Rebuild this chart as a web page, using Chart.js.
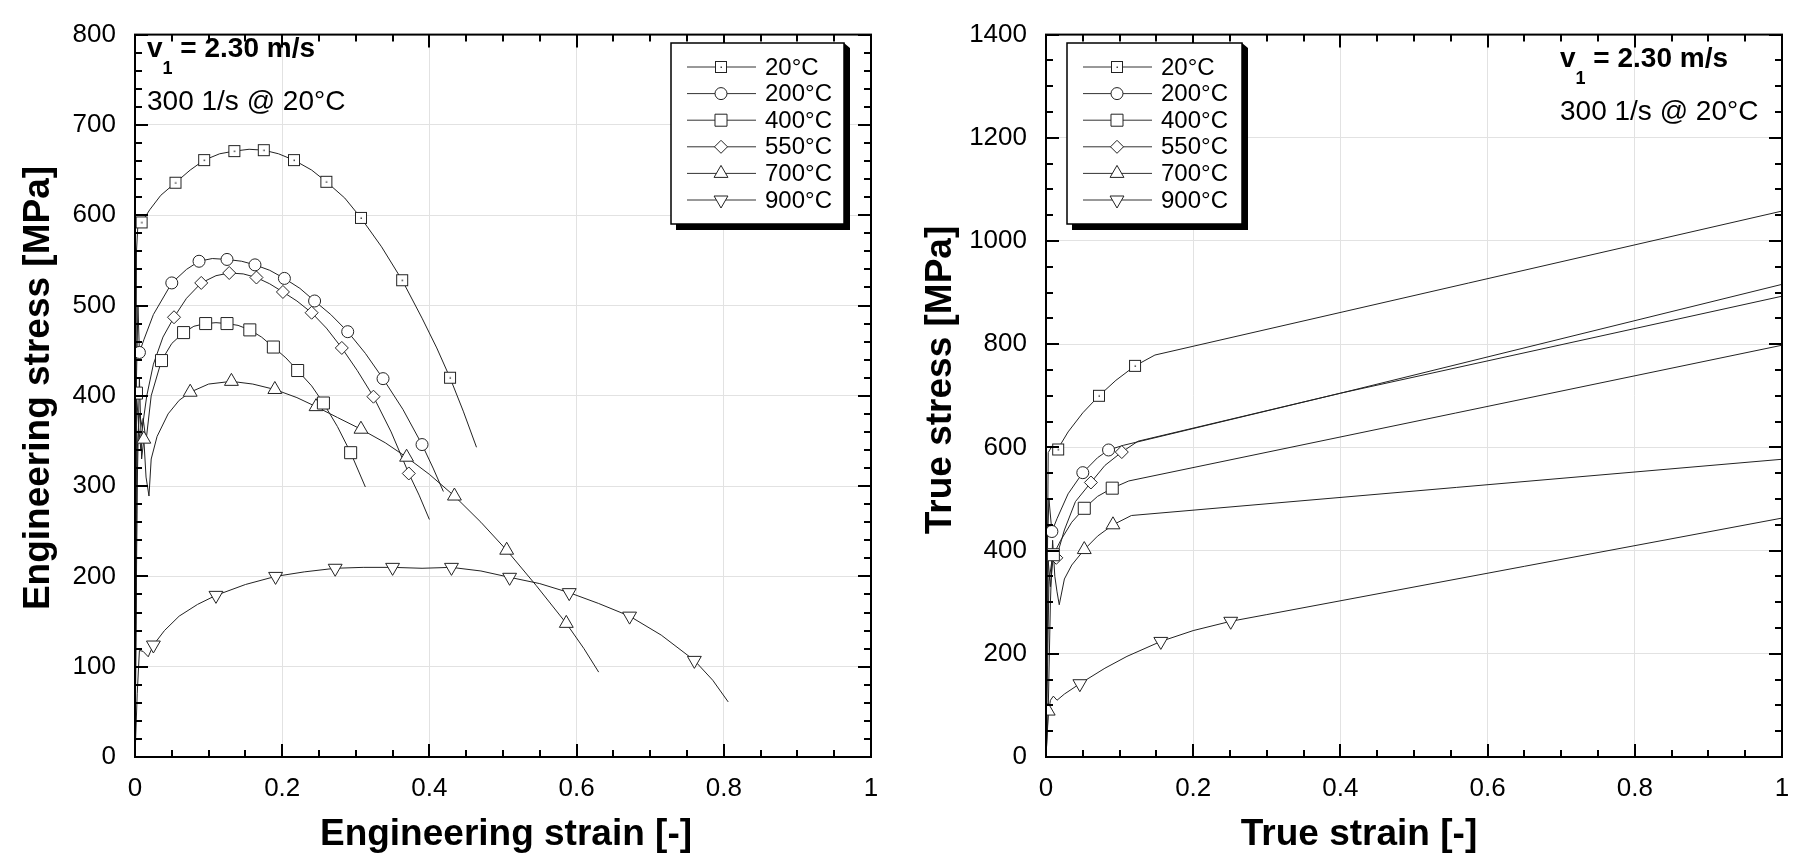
<!DOCTYPE html>
<html>
<head>
<meta charset="utf-8">
<script src="https://cdn.jsdelivr.net/npm/chart.js@4.4.0/dist/chart.umd.min.js"></script>
<style>
  html, body { margin: 0; padding: 0; background: #fff; }
  #wrap { position: relative; width: 1807px; height: 864px; }
  .box { position: absolute; top: 0; height: 864px; }
  #left { left: 0; width: 904px; }
  #right { left: 904px; width: 903px; }
</style>
</head>
<body>
<div id="wrap">
  <div class="box" id="left"><canvas id="engChart"></canvas></div>
  <div class="box" id="right"><canvas id="trueChart"></canvas></div>
</div>
<script>
const FONT = '"Liberation Sans", Arial, sans-serif';

// legend labels
const temps = ['20°C', '200°C', '400°C', '550°C', '700°C', '900°C'];

// engineering stress-strain curves  [strain, MPa]
const eng20 = [[0,0],[0.002,560],[0.004,590],[0.009,592],[0.02,606],[0.035,622],[0.055,636],[0.075,650],[0.094,661],[0.115,668],[0.135,671],[0.155,673],[0.175,672],[0.195,668],[0.216,661],[0.24,650],[0.26,637],[0.285,619],[0.307,597],[0.335,565],[0.363,528],[0.39,486],[0.41,453],[0.428,420],[0.446,383],[0.464,343]];
const eng200 = [[0,0],[0.002,420],[0.004,500],[0.006,448],[0.012,462],[0.025,490],[0.05,525],[0.07,540],[0.087,549],[0.105,552],[0.125,551],[0.145,549],[0.163,545],[0.183,539],[0.203,530],[0.224,519],[0.244,505],[0.266,490],[0.289,471],[0.313,447],[0.337,419],[0.364,385],[0.39,346],[0.405,320],[0.419,294]];
const eng400 = [[0,0],[0.002,403],[0.005,365],[0.008,340],[0.011,375],[0.015,350],[0.022,400],[0.036,439],[0.05,458],[0.066,470],[0.08,477],[0.096,480],[0.11,481],[0.125,480],[0.14,478],[0.156,473],[0.172,465],[0.188,454],[0.205,442],[0.221,428],[0.24,411],[0.256,392],[0.275,366],[0.293,337],[0.313,299]];
const eng550 = [[0,0],[0.003,340],[0.006,380],[0.01,365],[0.016,400],[0.025,435],[0.038,465],[0.053,487],[0.07,508],[0.09,525],[0.11,533],[0.128,536],[0.147,535],[0.165,531],[0.183,524],[0.201,515],[0.22,505],[0.24,492],[0.26,475],[0.281,453],[0.302,428],[0.324,399],[0.348,360],[0.372,314],[0.386,290],[0.40,263]];
const eng700 = [[0,0],[0.003,300],[0.006,420],[0.009,330],[0.012,352],[0.015,310],[0.019,289],[0.022,330],[0.03,355],[0.045,380],[0.06,395],[0.075,404],[0.1,413],[0.131,416],[0.16,413],[0.19,407],[0.22,398],[0.246,388],[0.275,376],[0.307,363],[0.34,348],[0.369,332],[0.4,313],[0.434,289],[0.47,260],[0.505,229],[0.545,190],[0.586,148],[0.61,120],[0.63,94]];
const eng900 = [[0,0],[0.003,70],[0.006,118],[0.011,117],[0.018,111],[0.025,124],[0.04,140],[0.06,156],[0.085,169],[0.11,179],[0.15,191],[0.191,200],[0.23,205],[0.272,209],[0.31,210],[0.35,210],[0.39,209],[0.43,210],[0.47,206],[0.509,199],[0.55,192],[0.59,182],[0.63,170],[0.672,156],[0.715,135],[0.76,107],[0.785,85],[0.806,61]];

// marker positions on the engineering curves
const engMk20 = [[0.009,592],[0.055,636],[0.094,661],[0.135,671],[0.175,672],[0.216,661],[0.26,637],[0.307,597],[0.363,528],[0.428,420]];
const engMk200 = [[0.006,448],[0.05,525],[0.087,549],[0.125,551],[0.163,545],[0.203,530],[0.244,505],[0.289,471],[0.337,419],[0.39,346]];
const engMk400 = [[0.002,403],[0.036,439],[0.066,470],[0.096,480],[0.125,480],[0.156,473],[0.188,454],[0.221,428],[0.256,392],[0.293,337]];
const engMk550 = [[0.053,487],[0.09,525],[0.128,536],[0.165,531],[0.201,515],[0.24,492],[0.281,453],[0.324,399],[0.372,314]];
const engMk700 = [[0.012,352],[0.075,404],[0.131,416],[0.19,407],[0.246,388],[0.307,363],[0.369,332],[0.434,289],[0.505,229],[0.586,148]];
const engMk900 = [[0.025,124],[0.11,179],[0.191,200],[0.272,209],[0.35,210],[0.43,210],[0.509,199],[0.59,182],[0.672,156],[0.76,107]];

// true stress-strain curves
const tr20 = [[0,0],[0.003,590],[0.008,602],[0.0165,598],[0.03,630],[0.05,667],[0.072,700],[0.095,730],[0.121,758],[0.148,779],[1,1058]];
const tr200 = [[0,0],[0.002,420],[0.004,500],[0.008,437],[0.015,462],[0.03,510],[0.05,551],[0.07,580],[0.085,595],[0.105,604],[0.4,705],[1,916]];
const tr400 = [[0,0],[0.003,380],[0.006,330],[0.01,392],[0.02,420],[0.035,455],[0.052,482],[0.07,505],[0.09,521],[0.1125,535],[1,798]];
const tr550 = [[0,0],[0.004,340],[0.008,380],[0.014,386],[0.025,440],[0.04,495],[0.061,532],[0.08,565],[0.103,591],[0.125,612],[0.4,705],[1,893]];
const tr700 = [[0,0],[0.003,89],[0.006,300],[0.009,420],[0.012,350],[0.015,320],[0.018,295],[0.025,345],[0.035,372],[0.052,402],[0.07,428],[0.091,450],[0.116,468],[1,577]];
const tr900 = [[0,0],[0.003,80],[0.006,110],[0.01,118],[0.015,110],[0.025,122],[0.046,142],[0.08,172],[0.11,195],[0.156,224],[0.2,245],[0.251,263],[0.3,276],[1,463]];

const trMk20 = [[0.0165,596],[0.072,700],[0.121,758]];
const trMk200 = [[0.008,437],[0.05,551],[0.085,595]];
const trMk400 = [[0.01,392],[0.052,482],[0.09,521]];
const trMk550 = [[0.014,386],[0.061,532],[0.103,591]];
const trMk700 = [[0.003,89],[0.052,402],[0.091,450]];
const trMk900 = [[0.046,142],[0.156,224],[0.251,263]];

// axis ticks
const strainTicks = [0, 0.2, 0.4, 0.6, 0.8, 1];
const engStressTicks = [0, 100, 200, 300, 400, 500, 600, 700, 800];
const trueStressTicks = [0, 200, 400, 600, 800, 1000, 1200, 1400];

// square with a dot in the middle (20°C)
function dotSquare() {
  const c = document.createElement('canvas');
  c.width = 14; c.height = 14;
  const g = c.getContext('2d');
  g.fillStyle = '#fff';
  g.fillRect(1, 1, 12, 12);
  g.strokeStyle = '#222';
  g.lineWidth = 1;
  g.strokeRect(1.5, 1.5, 11, 11);
  g.fillStyle = '#444';
  g.fillRect(6.5, 6.5, 1.5, 1.5);
  return c;
}

const markerStyles = [
  { pointStyle: dotSquare(), radius: 7, rotation: 0 },
  { pointStyle: 'circle', radius: 6, rotation: 0 },
  { pointStyle: 'rect', radius: 8.5, rotation: 0 },
  { pointStyle: 'rectRot', radius: 6.5, rotation: 0 },
  { pointStyle: 'triangle', radius: 8, rotation: 0 },
  { pointStyle: 'triangle', radius: 8, rotation: 180 }
];

function toXY(arr) {
  return arr.map(p => ({ x: p[0], y: p[1] }));
}

function makeDatasets(lines, marks) {
  const ds = [];
  lines.forEach((line, i) => {
    ds.push({
      label: temps[i],
      data: toXY(line),
      borderColor: '#222',
      borderWidth: 1,
      pointRadius: 0,
      fill: false,
      order: 2
    });
  });
  marks.forEach((mk, i) => {
    const m = markerStyles[i];
    ds.push({
      label: temps[i] + ' marks',
      data: toXY(mk),
      showLine: false,
      pointStyle: m.pointStyle,
      pointRadius: m.radius,
      rotation: m.rotation,
      pointBackgroundColor: '#fff',
      pointBorderColor: '#222',
      pointBorderWidth: 1,
      order: 1
    });
  });
  return ds;
}

function drawMarker(ctx, m, x, y) {
  if (Chart.helpers && Chart.helpers.drawPoint) {
    ctx.save();
    ctx.fillStyle = '#fff';
    ctx.strokeStyle = '#222';
    ctx.lineWidth = 1;
    Chart.helpers.drawPoint(ctx, { pointStyle: m.pointStyle, radius: m.radius, rotation: m.rotation, borderWidth: 1 }, x, y);
    ctx.restore();
  }
}

// frame, inward ticks, legend, notes
function framePlugin(opt) {
  return {
    id: 'frame',
    afterDraw(chart) {
      const ctx = chart.ctx;
      const a = chart.chartArea;
      const xs = chart.scales.x, ys = chart.scales.y;
      ctx.save();
      ctx.strokeStyle = '#000';
      ctx.lineWidth = 2;
      ctx.strokeRect(a.left, a.top, a.right - a.left, a.bottom - a.top);

      // x ticks
      for (let i = 0; i <= 20; i++) {
        const v = i * 0.05;
        const len = (i % 4 === 0) ? 13 : 7;
        const px = Math.round(xs.getPixelForValue(v));
        ctx.beginPath();
        ctx.moveTo(px, a.bottom); ctx.lineTo(px, a.bottom - len);
        ctx.moveTo(px, a.top); ctx.lineTo(px, a.top + len);
        ctx.stroke();
      }
      // y ticks
      const n = Math.round(opt.yMax / opt.yMinor);
      for (let i = 0; i <= n; i++) {
        const v = i * opt.yMinor;
        const len = (v % opt.yMajor === 0) ? 13 : 7;
        const py = Math.round(ys.getPixelForValue(v));
        ctx.beginPath();
        ctx.moveTo(a.left, py); ctx.lineTo(a.left + len, py);
        ctx.moveTo(a.right, py); ctx.lineTo(a.right - len, py);
        ctx.stroke();
      }

      // legend box with shadow
      const b = opt.legend;
      ctx.fillStyle = '#000';
      ctx.beginPath();
      ctx.moveTo(b.x + 5, b.y + b.h);
      ctx.lineTo(b.x + 5, b.y + b.h + 6);
      ctx.lineTo(b.x + b.w + 6, b.y + b.h + 6);
      ctx.lineTo(b.x + b.w + 6, b.y + 5);
      ctx.lineTo(b.x + b.w, b.y);
      ctx.lineTo(b.x + b.w, b.y + b.h);
      ctx.closePath();
      ctx.fill();
      ctx.fillStyle = '#fff';
      ctx.fillRect(b.x, b.y, b.w, b.h);
      ctx.lineWidth = 1.5;
      ctx.strokeRect(b.x, b.y, b.w, b.h);

      ctx.font = '24px ' + FONT;
      ctx.textAlign = 'left';
      ctx.textBaseline = 'middle';
      temps.forEach((t, i) => {
        const ry = b.y + 24 + i * 26.6;
        ctx.strokeStyle = '#333';
        ctx.lineWidth = 1;
        ctx.beginPath();
        ctx.moveTo(b.x + 16, ry); ctx.lineTo(b.x + 85, ry);
        ctx.stroke();
        drawMarker(ctx, markerStyles[i], b.x + 50, ry);
        ctx.fillStyle = '#000';
        ctx.fillText(t, b.x + 94, ry + 1);
      });

      // notes
      const nx = opt.note.x, ny = opt.note.y;
      ctx.fillStyle = '#000';
      ctx.textBaseline = 'alphabetic';
      ctx.font = 'bold 28px ' + FONT;
      ctx.fillText('v', nx, ny);
      const vw = ctx.measureText('v').width;
      ctx.font = 'bold 18px ' + FONT;
      ctx.fillText('1', nx + vw, ny + 17);
      const sw = ctx.measureText('1').width;
      ctx.font = 'bold 28px ' + FONT;
      ctx.fillText(' = 2.30 m/s', nx + vw + sw, ny);
      ctx.font = '28px ' + FONT;
      ctx.fillText('300 1/s @ 20°C', nx, ny + 53);

      // axis titles
      ctx.font = 'bold 37px ' + FONT;
      ctx.textAlign = 'center';
      ctx.fillText(opt.xTitle, opt.xTitleX, 845);
      ctx.save();
      ctx.translate(opt.yTitleX, opt.yTitleY);
      ctx.rotate(-Math.PI / 2);
      ctx.fillText(opt.yTitle, 0, 0);
      ctx.restore();

      ctx.restore();
    }
  };
}

function fmtStrain(v) {
  if (!strainTicks.some(t => Math.abs(t - v) < 1e-6)) return '';
  if (v === 0) return '0';
  if (Math.abs(v - 1) < 1e-6) return '1';
  return v.toFixed(1);
}

function makeChart(id, lines, marks, yTicks, yStep, yMax, yWidth, padRight, opt) {
  const tickFont = { family: FONT, size: 26 };
  return new Chart(document.getElementById(id), {
    type: 'line',
    data: { datasets: makeDatasets(lines, marks) },
    options: {
      responsive: true,
      maintainAspectRatio: false,
      animation: false,
      layout: { padding: { top: 22, right: padRight, left: 0, bottom: 0 } },
      plugins: { legend: { display: false }, tooltip: { enabled: false } },
      scales: {
        x: {
          type: 'linear', min: 0, max: 1,
          ticks: { stepSize: 0.2, color: '#000', font: tickFont, padding: 16, maxRotation: 0, callback: fmtStrain },
          grid: { color: '#e2e2e2', lineWidth: 1, drawTicks: false },
          border: { display: false },
          afterFit: s => { s.height = 107; }
        },
        y: {
          type: 'linear', min: 0, max: yMax,
          ticks: { stepSize: yStep, color: '#000', font: tickFont, padding: 19,
                   callback: v => yTicks.includes(v) ? String(v) : '' },
          grid: { color: '#e2e2e2', lineWidth: 1, drawTicks: false },
          border: { display: false },
          afterFit: s => { s.width = yWidth; }
        }
      }
    },
    plugins: [framePlugin(opt)]
  });
}

makeChart('engChart',
  [eng20, eng200, eng400, eng550, eng700, eng900],
  [engMk20, engMk200, engMk400, engMk550, engMk700, engMk900],
  engStressTicks, 100, 800, 135, 33,
  {
    yMax: 800, yMinor: 20, yMajor: 100,
    legend: { x: 671, y: 43, w: 173, h: 181 },
    note: { x: 147, y: 57 },
    xTitle: 'Engineering strain [-]', xTitleX: 506,
    yTitle: 'Engineering stress [MPa]', yTitleX: 49, yTitleY: 388
  });

makeChart('trueChart',
  [tr20, tr200, tr400, tr550, tr700, tr900],
  [trMk20, trMk200, trMk400, trMk550, trMk700, trMk900],
  trueStressTicks, 200, 1400, 142, 25,
  {
    yMax: 1400, yMinor: 50, yMajor: 200,
    legend: { x: 163, y: 43, w: 175, h: 181 },
    note: { x: 656, y: 67 },
    xTitle: 'True strain [-]', xTitleX: 455,
    yTitle: 'True stress [MPa]', yTitleX: 47, yTitleY: 380
  });
</script>
</body>
</html>
